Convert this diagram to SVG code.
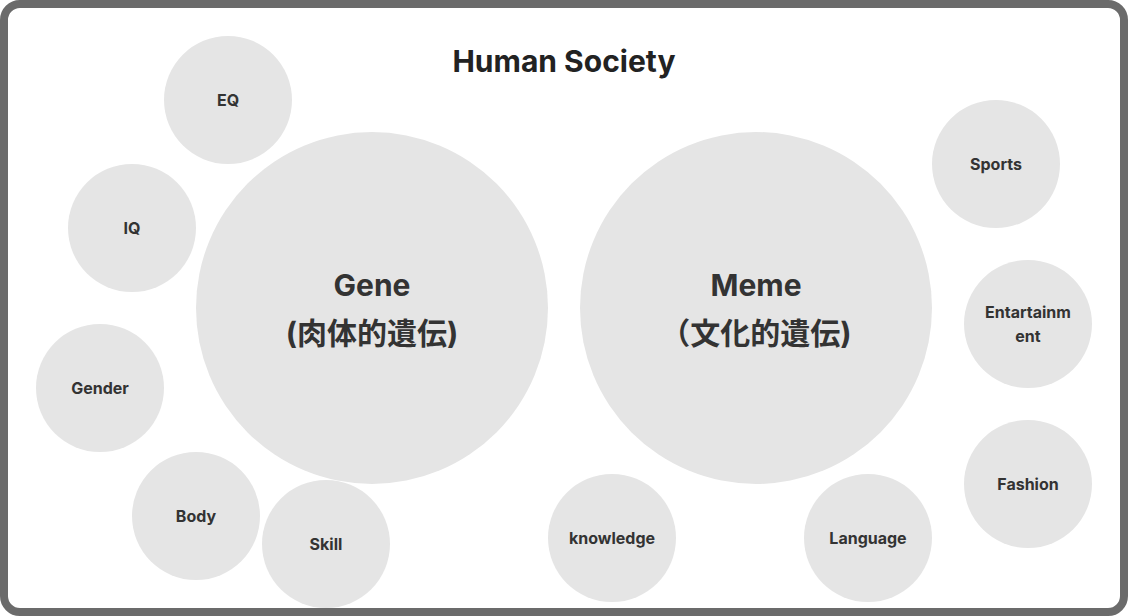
<svg xmlns="http://www.w3.org/2000/svg" width="1128" height="616" viewBox="0 0 1128 616">
<style>
.c{fill:#e5e5e5}
.s{font-family:Inter,"Noto Sans CJK JP",sans-serif;font-weight:700;font-size:16px;fill:#333;text-anchor:middle}
.b{font-family:Inter,"Noto Sans CJK JP",sans-serif;font-weight:700;font-size:30px;fill:#333;text-anchor:middle}
</style>
<rect x="0" y="0" width="1128" height="616" fill="#fff"/>
<rect x="4" y="4" width="1120" height="608" rx="16" fill="#fff" stroke="#6b6b6b" stroke-width="8"/>
<text x="564" y="72" font-family="Inter,sans-serif" font-weight="700" font-size="30" fill="#222" text-anchor="middle">Human Society</text>
<g id="gene"><circle class="c" cx="372" cy="308" r="176"/><text class="b" x="372" y="296">Gene</text><text class="b" x="372" y="344">(肉体的遺伝)</text></g>
<g id="meme"><circle class="c" cx="756" cy="308" r="176"/><text class="b" x="756" y="296">Meme</text><text class="b" x="756" y="344">（文化的遺伝)</text></g>
<g id="eq"><circle class="c" cx="228" cy="100" r="64"/><text class="s" x="228" y="106">EQ</text></g>
<g id="iq"><circle class="c" cx="132" cy="228" r="64"/><text class="s" x="132" y="234">IQ</text></g>
<g id="gender"><circle class="c" cx="100" cy="388" r="64"/><text class="s" x="100" y="394">Gender</text></g>
<g id="body"><circle class="c" cx="196" cy="516" r="64"/><text class="s" x="196" y="522">Body</text></g>
<g id="skill"><circle class="c" cx="326" cy="544" r="64"/><text class="s" x="326" y="550">Skill</text></g>
<g id="knowledge"><circle class="c" cx="612" cy="538" r="64"/><text class="s" x="612" y="544">knowledge</text></g>
<g id="language"><circle class="c" cx="868" cy="538" r="64"/><text class="s" x="868" y="544">Language</text></g>
<g id="sports"><circle class="c" cx="996" cy="164" r="64"/><text class="s" x="996" y="170">Sports</text></g>
<g id="entertainment"><circle class="c" cx="1028" cy="324" r="64"/><text class="s" x="1028" y="318">Entartainm</text><text class="s" x="1028" y="342">ent</text></g>
<g id="fashion"><circle class="c" cx="1028" cy="484" r="64"/><text class="s" x="1028" y="490">Fashion</text></g>
<g id="connectors"/>
</svg>
